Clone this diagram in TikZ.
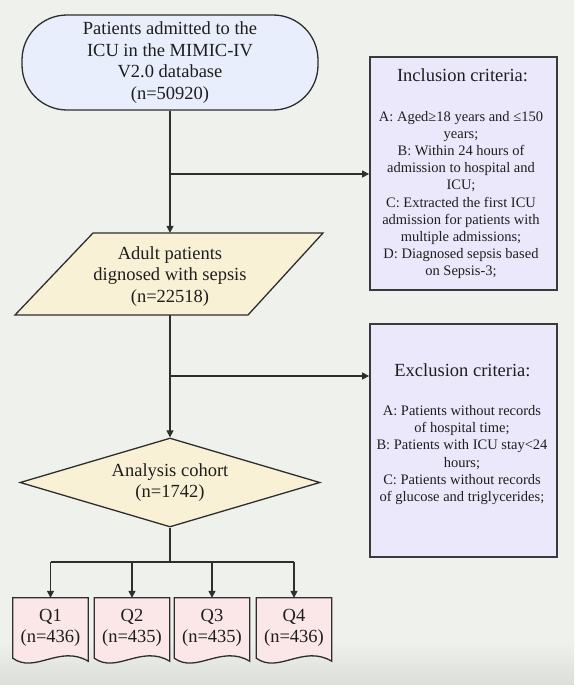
\documentclass[tikz,border=0pt]{standalone}
\usepackage{fontspec}
\setmainfont{Liberation Serif}
\usetikzlibrary{arrows.meta,shapes.geometric,calc}
\definecolor{bg}{HTML}{EFF1EC}
\definecolor{bgdark}{HTML}{DCDEDA}
\definecolor{lc}{HTML}{2E2E2E}
\definecolor{bc}{HTML}{3A3A3A}
\definecolor{tc}{HTML}{1E1E1E}
\definecolor{termfill}{HTML}{E8EEFB}
\definecolor{lav}{HTML}{ECE8FB}
\definecolor{cream}{HTML}{F9F1D6}
\definecolor{pinkq}{HTML}{FBE7E7}
\tikzset{
  line/.style={draw=lc, line width=1.3pt},
  arr/.style={line, -{Triangle[length=7pt,width=7pt]}},
  bigtxt/.style={font=\fontsize{18.5}{21.6}\selectfont, text=tc, align=center},
  smalltxt/.style={font=\fontsize{14.5}{17.2}\selectfont, text=tc, align=center, inner sep=0pt},
  critbox/.style={draw=bc, line width=1.8pt, fill=lav, minimum width=187pt, minimum height=233pt, inner sep=0pt},
  qbox/.style={minimum width=75pt, minimum height=60pt, inner sep=0pt},
  qshape/.style={draw=lc, line width=1.3pt, fill=pinkq}
}
\begin{document}
\begin{tikzpicture}[x=1pt,y=-1pt]
\useasboundingbox (0,0) rectangle (574,685);
\fill[bg] (0,0) rectangle (574,685);
\shade[top color=bg, bottom color=bgdark] (0,640) rectangle (574,685);

% start terminal
\node[draw=lc, line width=1.3pt, fill=termfill, rounded corners=45pt,
      minimum width=296pt, minimum height=95pt, bigtxt] (term) at (170,62.5)
  {Patients admitted to the\\ICU in the MIMIC-IV\\V2.0 database\\(n=50920)};

% inclusion box
\node[critbox] (incl) at (463.5,173.5) {};
\node[bigtxt, inner sep=0pt] (incltitle) at (462.5,75) {Inclusion criteria:};
\node[smalltxt] (inclbody) at (461,195)
  {A: Aged≥18 years and ≤150\\years;\\B: Within 24 hours of\\admission to hospital and\\ICU;\\C: Extracted the first ICU\\admission for patients with\\multiple admissions;\\D: Diagnosed sepsis based\\on Sepsis-3;};

% parallelogram
\node[minimum width=10pt, minimum height=82pt, inner sep=0pt] (para) at (170,274) {};
\filldraw[draw=lc, line width=1.3pt, fill=cream] (93,233) -- (323,233) -- (248,315) -- (15,315) -- cycle;
\node[bigtxt, inner sep=0pt] (paratext) at (170,276.5)
  {Adult patients\\dignosed with sepsis\\(n=22518)};

% exclusion box
\node[critbox] (excl) at (463.5,440.5) {};
\node[bigtxt, inner sep=0pt] (excltitle) at (462.5,370) {Exclusion criteria:};
\node[smalltxt] (exclbody) at (462,455)
  {A: Patients without records\\of hospital time;\\B: Patients with ICU stay<24\\hours;\\C: Patients without records\\of glucose and triglycerides;};

% diamond
\node[diamond, draw=lc, line width=1.3pt, fill=cream, aspect=3.37,
      minimum width=300pt, minimum height=89pt, inner sep=0pt, bigtxt] (diam) at (170,482.5)
  {Analysis cohort\\(n=1742)};

% quartile boxes
\node[qbox] (q1) at (50.5,628) {};
\node[qbox] (q2) at (132,628) {};
\node[qbox] (q3) at (212,628) {};
\node[qbox] (q4) at (294,628) {};
\foreach \q in {q1,q2,q3,q4}{
  \filldraw[qshape] (\q.north west) -- (\q.north east) -- ($(\q.south east)+(0,3)$)
     .. controls ($(\q.south west)+(47,-14)$) and ($(\q.south west)+(22,16)$) .. (\q.south west) -- cycle;
}
\node[bigtxt] (q1text) at (q1) {Q1\\(n=436)};
\node[bigtxt] (q2text) at (q2) {Q2\\(n=435)};
\node[bigtxt] (q3text) at (q3) {Q3\\(n=435)};
\node[bigtxt] (q4text) at (q4) {Q4\\(n=436)};

% connectors
\coordinate (b1) at (170,174);
\coordinate (b2) at (170,376);
\coordinate (br) at (170,562);
\draw[arr] (term.south) -- (para.north);
\draw[arr] (b1) -- (b1 -| incl.west);
\draw[arr] (para.south) -- (diam.north);
\draw[arr] (b2) -- (b2 -| excl.west);
\draw[line] (diam.south) -- (br);
\draw[line] (br -| q1.north) -- (br -| q4.north);
\foreach \q in {q1,q2,q3,q4}{
  \draw[arr] (br -| \q.north) -- (\q.north);
}
\end{tikzpicture}
\end{document}
